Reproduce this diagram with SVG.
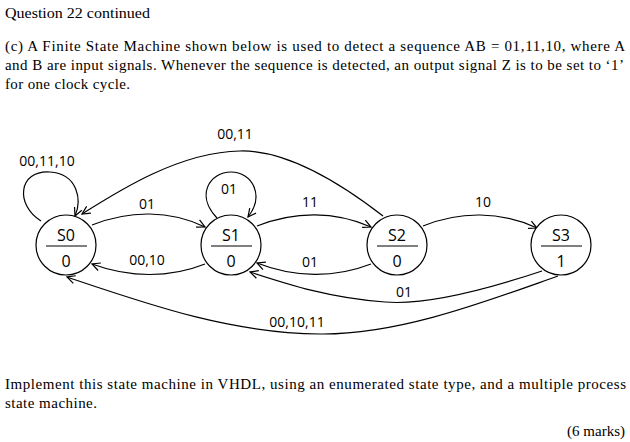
<svg xmlns="http://www.w3.org/2000/svg" width="630" height="442" viewBox="0 0 630 442">
<style>
.t{font-family:"Liberation Serif",serif;font-size:15px;fill:#000}
.l{font-family:"Open Sans","Liberation Sans",sans-serif;font-size:14px;fill:#000;text-anchor:middle}
.s{font-family:"Open Sans","Liberation Sans",sans-serif;font-size:16px;fill:#000;text-anchor:middle}
.c{fill:#fff;stroke:#000;stroke-width:1.2}
.e{fill:none;stroke:#000;stroke-width:1.2;marker-end:url(#a)}
</style>
<defs><marker id="a" markerWidth="10" markerHeight="10" refX="9" refY="5" orient="auto" markerUnits="userSpaceOnUse"><path d="M1,1 L9,5 L1,9" fill="none" stroke="#000" stroke-width="1.2"/></marker></defs>
<rect width="630" height="442" fill="#fff"/>
<text class="t" x="5" y="18" textLength="145" lengthAdjust="spacingAndGlyphs">Question 22 continued</text>
<text class="t" x="5" y="51" textLength="620" lengthAdjust="spacing">(c)  A Finite State Machine shown below is used to detect a sequence AB = 01,11,10, where A</text>
<text class="t" x="5" y="70" textLength="619" lengthAdjust="spacing">and B are input signals.   Whenever the sequence is detected, an output signal Z is to be set to ‘1’</text>
<text class="t" x="5" y="89" textLength="125" lengthAdjust="spacing">for one clock cycle.</text>
<text class="t" x="5" y="389" textLength="621" lengthAdjust="spacing">Implement this state machine in VHDL, using an enumerated state type, and a multiple process</text>
<text class="t" x="5" y="408" textLength="92" lengthAdjust="spacing">state machine.</text>
<text class="t" x="625" y="436" text-anchor="end">(6 marks)</text>
<g id="connectors">
<path class="e" d="M41,221 C15,205 18,170 50,172 C78,174 82,200 75,216"/>
<path class="e" d="M92,225 C130,210 170,210 205,227"/>
<path class="e" d="M205,264 C170,278 130,278 92,264"/>
<path class="e" d="M383,216 C330,175 280,150 240,151 C180,152 120,190 82,214"/>
<path class="e" d="M217,218 C195,195 210,172 231,172 C252,172 265,195 248,217"/>
<path class="e" d="M257,226 C295,211 335,211 371,227"/>
<path class="e" d="M371,264 C335,278 295,278 257,263"/>
<path class="e" d="M423,226 C460,211 500,211 537,228"/>
<path class="e" d="M542,271 C470,295 420,305 385,302 C330,298 290,285 250,272"/>
<path class="e" d="M558,276 C490,300 400,335 320,334 C230,333 150,305 67,277"/>
<text class="l" x="47" y="166">00,11,10</text>
<text class="l" x="235" y="139">00,11</text>
<text class="l" x="229" y="194">01</text>
<text class="l" x="147" y="209">01</text>
<text class="l" x="147" y="265">00,10</text>
<text class="l" x="310" y="207">11</text>
<text class="l" x="310" y="267">01</text>
<text class="l" x="483" y="207">10</text>
<text class="l" x="404" y="297">01</text>
<text class="l" x="297" y="327">00,10,11</text>
</g>
<g id="S0"><circle class="c" cx="66" cy="245" r="30"/><line x1="46" y1="246" x2="87" y2="246" stroke="#000"/><text class="s" x="66" y="241">S0</text><text class="s" x="66" y="267">0</text></g>
<g id="S1"><circle class="c" cx="231" cy="245" r="30"/><line x1="211" y1="246" x2="252" y2="246" stroke="#000"/><text class="s" x="231" y="241">S1</text><text class="s" x="231" y="267">0</text></g>
<g id="S2"><circle class="c" cx="397" cy="245" r="30"/><line x1="377" y1="246" x2="418" y2="246" stroke="#000"/><text class="s" x="397" y="241">S2</text><text class="s" x="397" y="267">0</text></g>
<g id="S3"><circle class="c" cx="561" cy="245" r="30"/><line x1="541" y1="246" x2="582" y2="246" stroke="#000"/><text class="s" x="561" y="241">S3</text><text class="s" x="561" y="267">1</text></g>
</svg>
